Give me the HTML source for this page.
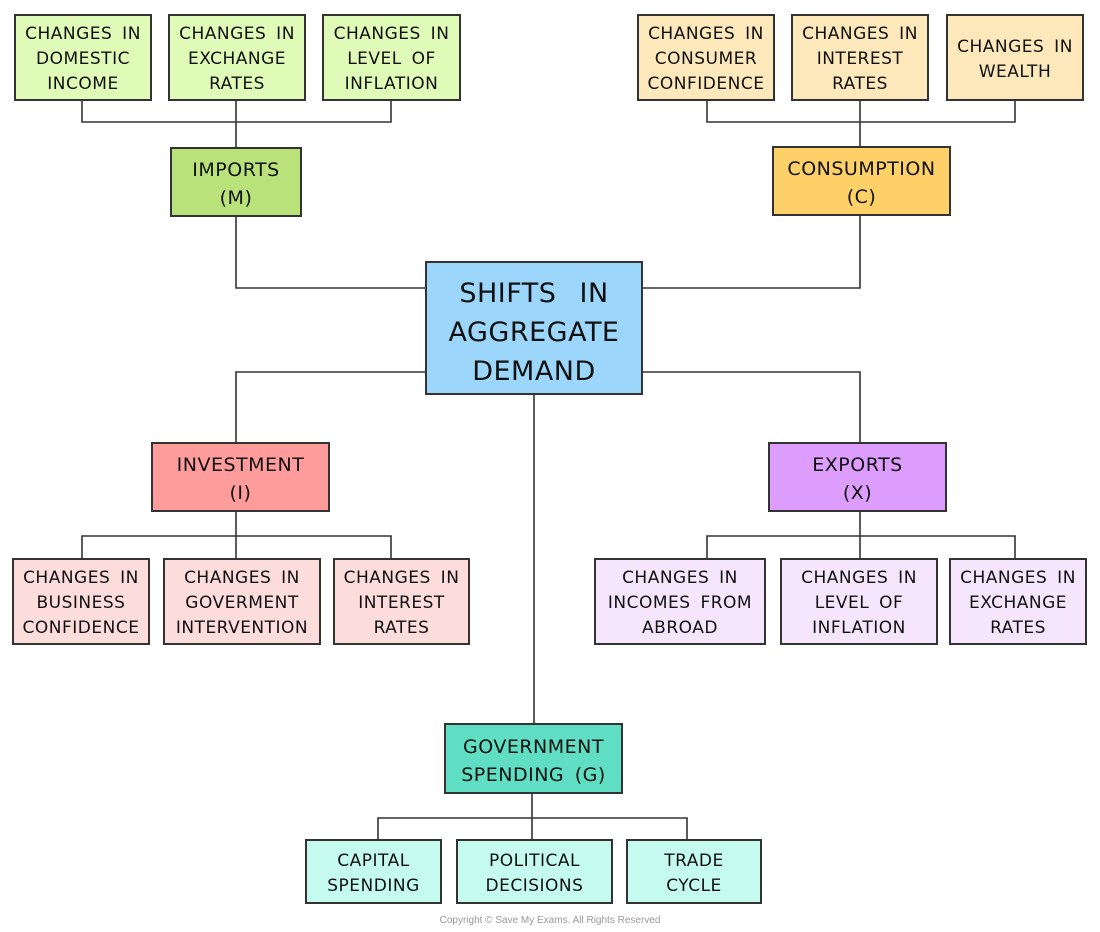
<!DOCTYPE html>
<html><head><meta charset="utf-8"><style>
body{margin:0;width:1100px;height:932px;background:#fff;position:relative;font-family:"DejaVu Sans","Liberation Sans",sans-serif;overflow:hidden}
.b{position:absolute;box-sizing:border-box;border:2px solid #333;padding-top:4px;display:flex;align-items:center;justify-content:center;text-align:center;font-size:17px;line-height:25px;letter-spacing:0.5px;color:#111;word-spacing:4px}
.m{font-size:19px;line-height:28px}
svg{position:absolute;left:0;top:0}
</style></head><body>
<svg width="1100" height="932" fill="none" stroke="#333" stroke-width="1.6">
<path d="M82 101V122H391V101M236 101V147M236 217V288H425"/>
<path d="M707 101V122H1015V101M860 101V146M860 216V288H643"/>
<path d="M425 372H236V442M643 372H860V442"/>
<path d="M236 512V536M82 558V536H391V558M236 536V558"/>
<path d="M860 512V536M707 558V536H1015V558M860 536V558"/>
<path d="M534 395V723M532 794V818M378 839V818H687V839M532 818V839"/>
</svg>
<div class="b" style="left:14px;top:14px;width:138px;height:87px;background:#e0fbb8">CHANGES IN<br>DOMESTIC<br>INCOME</div>
<div class="b" style="left:168px;top:14px;width:138px;height:87px;background:#e0fbb8">CHANGES IN<br>EXCHANGE<br>RATES</div>
<div class="b" style="left:322px;top:14px;width:139px;height:87px;background:#e0fbb8">CHANGES IN<br>LEVEL OF<br>INFLATION</div>
<div class="b m" style="left:170px;top:147px;width:132px;height:70px;background:#b9e27a">IMPORTS<br>(M)</div>
<div class="b" style="left:637px;top:14px;width:138px;height:87px;background:#fde8bb">CHANGES IN<br>CONSUMER<br>CONFIDENCE</div>
<div class="b" style="left:791px;top:14px;width:138px;height:87px;background:#fde8bb">CHANGES IN<br>INTEREST<br>RATES</div>
<div class="b" style="left:946px;top:14px;width:138px;height:87px;background:#fde8bb">CHANGES IN<br>WEALTH</div>
<div class="b m" style="left:772px;top:146px;width:179px;height:70px;background:#fdd068">CONSUMPTION<br>(C)</div>
<div class="b" style="left:425px;top:261px;width:218px;height:134px;padding-top:8px;background:#9cd6fb;font-size:27px;line-height:39px;word-spacing:14px">SHIFTS IN<br>AGGREGATE<br>DEMAND</div>
<div class="b m" style="left:151px;top:442px;width:179px;height:70px;background:#fe9c9c">INVESTMENT<br>(I)</div>
<div class="b m" style="left:768px;top:442px;width:179px;height:70px;background:#dd9dfc">EXPORTS<br>(X)</div>
<div class="b" style="left:12px;top:558px;width:138px;height:87px;background:#fddcdc">CHANGES IN<br>BUSINESS<br>CONFIDENCE</div>
<div class="b" style="left:163px;top:558px;width:158px;height:87px;background:#fddcdc">CHANGES IN<br>GOVERMENT<br>INTERVENTION</div>
<div class="b" style="left:333px;top:558px;width:137px;height:87px;background:#fddcdc">CHANGES IN<br>INTEREST<br>RATES</div>
<div class="b" style="left:594px;top:558px;width:172px;height:87px;background:#f5e6fd">CHANGES IN<br>INCOMES FROM<br>ABROAD</div>
<div class="b" style="left:780px;top:558px;width:158px;height:87px;background:#f5e6fd">CHANGES IN<br>LEVEL OF<br>INFLATION</div>
<div class="b" style="left:949px;top:558px;width:138px;height:87px;background:#f5e6fd">CHANGES IN<br>EXCHANGE<br>RATES</div>
<div class="b m" style="left:444px;top:723px;width:179px;height:71px;background:#5fdec3">GOVERNMENT<br>SPENDING (G)</div>
<div class="b" style="left:305px;top:839px;width:137px;height:65px;background:#c5fbef">CAPITAL<br>SPENDING</div>
<div class="b" style="left:456px;top:839px;width:157px;height:65px;background:#c5fbef">POLITICAL<br>DECISIONS</div>
<div class="b" style="left:626px;top:839px;width:136px;height:65px;background:#c5fbef">TRADE<br>CYCLE</div>
<div style="position:absolute;left:0;width:1100px;top:915px;text-align:center;font-size:10px;color:#999;font-family:'Liberation Sans',sans-serif">Copyright © Save My Exams. All Rights Reserved</div>
</body></html>
